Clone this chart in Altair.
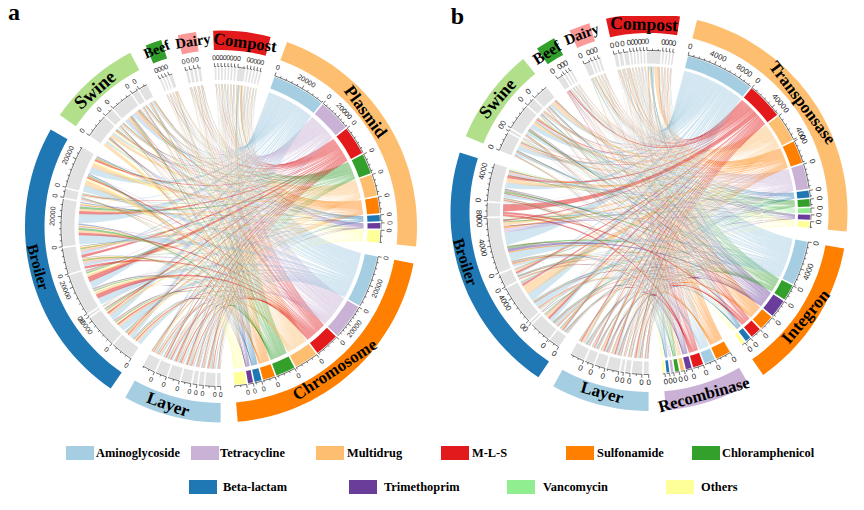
import math
import altair as alt

CLASSES = ["Aminoglycoside", "Tetracycline", "Multidrug", "M-L-S", "Sulfonamide",
           "Chloramphenicol", "Beta-lactam", "Trimethoprim", "Vancomycin", "Others"]
CLASS_COLORS = ["#a6cee3", "#cab2d6", "#fdbf6f", "#e31a1c", "#ff7f00",
                "#33a02c", "#1f78b4", "#6a3d9a", "#90ee90", "#ffff99"]
SECTOR_COLORS = {"Compost": "#e31a1c", "Plasmid": "#fdbf6f", "Chromosome": "#ff7f00",
                 "Layer": "#a6cee3", "Broiler": "#1f78b4", "Swine": "#b2df8a",
                 "Beef": "#33a02c", "Dairy": "#fb9a99", "Transponsase": "#fdbf6f",
                 "Integron": "#ff7f00", "Recombinase": "#cab2d6"}

# ---------- panel a : mobile element totals per class ----------
plasmid_classes = ["Aminoglycoside", "Tetracycline", "M-L-S", "Chloramphenicol", "Multidrug",
                   "Sulfonamide", "Beta-lactam", "Trimethoprim", "Others"]
plasmid_values = [36100, 21700, 19400, 13500, 14400, 10800, 4300, 3700, 8400]
chromosome_classes = ["Aminoglycoside", "Tetracycline", "M-L-S", "Multidrug", "Chloramphenicol",
                      "Sulfonamide", "Beta-lactam", "Trimethoprim", "Others"]
chromosome_values = [35000, 23700, 16500, 16100, 13100, 8200, 4700, 3400, 8000]

# panel a : sample totals
a_compost = [1100, 1000, 1200, 1100, 1000, 1100, 1200, 5000, 1100, 1200, 1000, 1100, 1000]
a_dairy = [1700, 1700, 1700, 1700]
a_beef = [1100, 1100, 1100, 2300]
a_swine = [15900, 5800, 15000, 4300, 6000]
a_broiler = [15000, 22400, 1300, 28200, 17400, 31800, 5800, 28600]
a_layer = [2600, 6700, 3200, 3000, 6700, 7900, 7500, 8600]

# class mix per sample : same order as CLASSES
a_compost_mix = [
    [32, 6, 24, 9, 9, 6, 7, 2, 0, 5], [25, 10, 28, 8, 8, 7, 6, 3, 0, 5], [30, 8, 20, 12, 10, 6, 5, 3, 0, 6],
    [22, 12, 25, 7, 12, 8, 6, 2, 0, 6], [35, 7, 22, 8, 7, 5, 7, 3, 0, 6], [28, 9, 26, 10, 8, 6, 5, 2, 0, 6],
    [24, 11, 23, 12, 9, 7, 6, 3, 0, 5], [30, 6, 27, 4, 13, 14, 3, 1, 0, 2], [33, 8, 21, 7, 9, 8, 6, 3, 0, 5],
    [26, 10, 26, 9, 8, 6, 7, 2, 0, 6], [29, 7, 24, 11, 10, 7, 5, 2, 0, 5], [23, 12, 28, 8, 7, 8, 6, 3, 0, 5],
    [31, 9, 22, 10, 9, 6, 6, 2, 0, 5]]
a_dairy_mix = [[24, 12, 30, 8, 8, 8, 4, 2, 0, 4], [30, 10, 22, 12, 8, 8, 3, 2, 0, 5],
               [26, 9, 28, 10, 9, 6, 5, 3, 0, 4], [28, 14, 20, 12, 6, 9, 4, 2, 0, 5]]
a_beef_mix = [[30, 10, 20, 14, 8, 6, 5, 3, 0, 4], [24, 14, 24, 10, 10, 7, 4, 3, 0, 4],
              [32, 12, 18, 12, 8, 8, 4, 2, 0, 4], [22, 14, 18, 6, 16, 16, 3, 2, 0, 3]]
a_swine_mix = [[24, 8, 30, 6, 6, 5, 3, 2, 0, 16], [28, 14, 18, 10, 10, 8, 5, 2, 0, 5],
               [30, 16, 14, 6, 10, 8, 6, 4, 0, 6], [26, 14, 18, 10, 12, 10, 4, 2, 0, 4],
               [42, 10, 14, 6, 10, 10, 2, 2, 0, 4]]
a_broiler_mix = [[38, 5, 17, 14, 6, 6, 4, 2, 0, 8], [42, 6, 13, 13, 5, 7, 3, 2, 0, 9],
                 [30, 10, 20, 10, 5, 5, 5, 5, 0, 10], [36, 5, 12, 26, 4, 6, 3, 1, 0, 7],
                 [18, 17, 14, 22, 8, 9, 3, 2, 0, 7], [44, 6, 11, 14, 5, 11, 3, 2, 0, 4],
                 [25, 10, 15, 15, 10, 10, 5, 5, 0, 5], [35, 4, 26, 9, 5, 5, 3, 2, 0, 11]]
a_layer_mix = [[30, 8, 20, 16, 8, 6, 5, 3, 0, 4], [34, 8, 18, 16, 7, 5, 5, 2, 0, 5],
               [28, 10, 22, 14, 8, 6, 5, 3, 0, 4], [36, 7, 16, 18, 6, 6, 4, 3, 0, 4],
               [32, 6, 20, 20, 6, 5, 4, 2, 0, 5], [30, 8, 20, 20, 6, 6, 4, 2, 0, 4],
               [28, 8, 18, 22, 7, 7, 4, 2, 0, 4], [34, 6, 20, 14, 6, 6, 4, 2, 0, 8]]

# ---------- panel b ----------
transponsase_classes = ["Aminoglycoside", "M-L-S", "Multidrug", "Sulfonamide", "Tetracycline",
                        "Beta-lactam", "Chloramphenicol", "Vancomycin", "Trimethoprim", "Others"]
transponsase_values = [10050, 5300, 4000, 3300, 3600, 1000, 1050, 720, 720, 920]
integron_classes = ["Aminoglycoside", "Chloramphenicol", "Trimethoprim", "Sulfonamide", "M-L-S",
                    "Beta-lactam", "Others"]
integron_values = [6400, 2330, 2650, 2170, 1570, 800, 520]
recombinase_classes = ["Sulfonamide", "Aminoglycoside", "M-L-S", "Trimethoprim", "Multidrug",
                       "Chloramphenicol", "Tetracycline", "Beta-lactam", "Others"]
recombinase_values = [2170, 1570, 1490, 840, 520, 560, 360, 400, 320]

b_compost = [480, 480, 640, 240, 240, 240, 240, 240, 2000, 240, 240, 240, 240]
b_dairy = [880, 280, 280, 280]
b_beef = [880, 240, 240, 240]
b_swine = [2800, 320, 3780, 1200, 2250]
b_broiler = [1600, 3100, 280, 5630, 1970, 8000, 2000, 5430]
b_layer = [720, 1450, 720, 440, 1770, 1490, 1250, 2050]

b_compost_mix = [
    [26, 6, 34, 8, 8, 6, 4, 3, 2, 3], [30, 8, 26, 10, 8, 6, 5, 3, 1, 3], [24, 7, 30, 12, 9, 6, 4, 3, 2, 3],
    [28, 9, 24, 11, 8, 7, 5, 3, 2, 3], [25, 10, 27, 10, 10, 6, 4, 3, 2, 3], [31, 8, 23, 9, 9, 7, 5, 3, 2, 3],
    [27, 6, 29, 11, 8, 6, 5, 3, 2, 3], [29, 9, 25, 10, 9, 6, 4, 4, 1, 3], [33, 5, 30, 5, 12, 8, 2, 2, 1, 2],
    [26, 8, 28, 12, 8, 6, 4, 3, 2, 3], [30, 7, 24, 10, 10, 7, 4, 3, 2, 3], [24, 10, 27, 11, 9, 6, 5, 3, 2, 3],
    [28, 8, 26, 9, 10, 7, 4, 3, 2, 3]]
b_dairy_mix = [[34, 6, 28, 8, 6, 8, 3, 3, 1, 3], [24, 12, 26, 12, 8, 6, 4, 3, 2, 3],
               [28, 8, 24, 14, 10, 6, 3, 3, 1, 3], [22, 12, 30, 12, 8, 6, 3, 3, 1, 3]]
b_beef_mix = [[20, 5, 12, 40, 6, 6, 3, 4, 1, 3], [28, 10, 22, 14, 8, 6, 4, 4, 1, 3],
              [24, 10, 24, 16, 8, 6, 4, 4, 1, 3], [26, 12, 20, 14, 10, 7, 4, 3, 1, 3]]
b_swine_mix = [[44, 7, 12, 7, 7, 7, 4, 5, 2, 5], [26, 10, 18, 14, 10, 8, 5, 4, 2, 3],
               [36, 8, 14, 8, 8, 9, 5, 5, 2, 5], [30, 10, 18, 12, 10, 7, 4, 4, 2, 3],
               [34, 8, 26, 7, 7, 6, 3, 4, 2, 3]]
b_broiler_mix = [[30, 6, 16, 18, 8, 8, 4, 4, 2, 4], [36, 7, 14, 17, 7, 6, 4, 3, 2, 4],
                 [28, 10, 18, 14, 8, 8, 4, 4, 2, 4], [42, 4, 30, 9, 3, 3, 3, 2, 1, 3],
                 [26, 8, 16, 22, 8, 8, 4, 4, 1, 3], [46, 9, 8, 5, 9, 7, 3, 9, 1, 3],
                 [2, 1, 1, 90, 1, 1, 1, 1, 1, 1], [30, 8, 15, 13, 8, 9, 5, 5, 2, 5]]
b_layer_mix = [[30, 8, 18, 18, 8, 6, 4, 4, 1, 3], [28, 8, 20, 20, 7, 6, 4, 3, 1, 3],
               [30, 10, 18, 16, 8, 7, 4, 3, 1, 3], [26, 10, 20, 18, 8, 7, 4, 3, 1, 3],
               [32, 8, 16, 20, 7, 6, 4, 3, 1, 3], [28, 7, 20, 22, 6, 6, 4, 3, 1, 3],
               [32, 8, 16, 18, 8, 7, 4, 3, 1, 3], [30, 7, 22, 16, 7, 6, 5, 3, 1, 3]]

# ---------- panel layout ----------
PANELS = [
    dict(letter="a", letter_xy=(14, 20), cx=221, cy=226.5, start=357.7, tick_font=7,
         r_out=196, r_in=176.5, b_out=159, b_in=146.5, r_rib=142.5, minor=4000, major=20000,
         tick_stretch={"Tetracycline": 0.66},
         order=["Compost", "Plasmid", "Chromosome", "Layer", "Broiler", "Swine", "Beef", "Dairy"],
         targets={"Plasmid": (plasmid_classes, plasmid_values),
                  "Chromosome": (chromosome_classes, chromosome_values)},
         samples={"Compost": (a_compost, a_compost_mix), "Layer": (a_layer, a_layer_mix),
                  "Broiler": (a_broiler, a_broiler_mix), "Swine": (a_swine, a_swine_mix),
                  "Beef": (a_beef, a_beef_mix), "Dairy": (a_dairy, a_dairy_mix)},
         labels={"Compost": (245, 43, 7.5, 16.7), "Plasmid": (365, 112, 54, 17.4),
                 "Chromosome": (335, 370, -33.5, 17), "Layer": (168, 405, 20, 17.3),
                 "Broiler": (38, 267, 75, 15.4), "Swine": (95, 90, -41, 18.8),
                 "Beef": (157, 50, -22, 14.2), "Dairy": (193, 42, -9, 14.5)}),
    dict(letter="b", letter_xy=(457.5, 24), cx=649, cy=212.5, start=347.5, tick_font=7.8,
         r_out=198.5, r_in=179.5, b_out=161, b_in=149, r_rib=146, minor=800, major=4000,
         tick_stretch={},
         order=["Compost", "Transponsase", "Integron", "Recombinase", "Layer", "Broiler", "Swine", "Beef", "Dairy"],
         targets={"Transponsase": (transponsase_classes, transponsase_values),
                  "Integron": (integron_classes, integron_values),
                  "Recombinase": (recombinase_classes, recombinase_values)},
         samples={"Compost": (b_compost, b_compost_mix), "Layer": (b_layer, b_layer_mix),
                  "Broiler": (b_broiler, b_broiler_mix), "Swine": (b_swine, b_swine_mix),
                  "Beef": (b_beef, b_beef_mix), "Dairy": (b_dairy, b_dairy_mix)},
         labels={"Compost": (644, 25, 2, 17.7), "Transponsase": (802, 103, 53, 17),
                 "Integron": (806, 317, -50, 17.5), "Recombinase": (704, 395, -15.5, 16.6),
                 "Layer": (602, 393, 15.6, 17), "Broiler": (465, 262, 72, 16),
                 "Swine": (498, 99, -49, 18), "Beef": (547, 53, -32, 15.9), "Dairy": (582, 35, -21, 14.7)}),
]
BLOCK_GAP, SECTOR_GAP = 0.6, 5.0
MX, MY = 8, 16  # page margin, plus a strip of top padding so the letters are not clipped


def pt(p, ang, r):
    a = math.radians(ang)
    return (p["cx"] + r * math.sin(a) - MX, p["cy"] - r * math.cos(a) - MY)


def arc(p, a0, a1, r):
    n = max(1, int(abs(a1 - a0) / 2.5) + 1)
    return [pt(p, a0 + (a1 - a0) * i / n, r) for i in range(n + 1)]


def clean(points):
    return [[round(x, 1), round(y, 1)] for x, y in points]


def feature(kind, coords, **props):
    return {"type": "Feature", "geometry": {"type": kind, "coordinates": coords}, "properties": props}


def bezier(p, a, b, n=14):
    ox, oy = p["cx"] - MX, p["cy"] - MY
    cx = ox + 0.15 * ((a[0] + b[0]) / 2 - ox)
    cy = oy + 0.15 * ((a[1] + b[1]) / 2 - oy)
    out = []
    for i in range(1, n):
        t = i / n
        out.append(((1 - t) ** 2 * a[0] + 2 * t * (1 - t) * cx + t * t * b[0],
                    (1 - t) ** 2 * a[1] + 2 * t * (1 - t) * cy + t * t * b[1]))
    return out


ribbons, solids, axes, tick_labels, sector_labels = [], [], [], [], []

for p in PANELS:
    total = 0
    n_gaps = 0
    for name in p["order"]:
        vals = p["targets"][name][1] if name in p["targets"] else p["samples"][name][0]
        total += sum(vals)
        n_gaps += len(vals) - 1
    per_unit = (360 - n_gaps * BLOCK_GAP - len(p["order"]) * SECTOR_GAP) / total

    cursor = p["start"]
    spans = {}
    for name in p["order"]:
        vals = p["targets"][name][1] if name in p["targets"] else p["samples"][name][0]
        first = cursor
        blocks = []
        for v in vals:
            blocks.append((cursor, cursor + v * per_unit, v))
            cursor += v * per_unit + BLOCK_GAP
        cursor -= BLOCK_GAP
        spans[name] = blocks
        ring = arc(p, first, cursor, p["r_out"]) + arc(p, cursor, first, p["r_in"])
        solids.append(feature("Polygon", [clean(ring + ring[:1])], c=SECTOR_COLORS[name]))
        cursor += SECTOR_GAP

    # blocks, axes and tick marks
    for name in p["order"]:
        for i, (a0, a1, v) in enumerate(spans[name]):
            color = "#e2e2e2"
            stretch = 1.0
            if name in p["targets"]:
                cls = p["targets"][name][0][i]
                color = CLASS_COLORS[CLASSES.index(cls)]
                stretch = p["tick_stretch"].get(cls, 1.0)
            poly = arc(p, a0, a1, p["b_out"]) + arc(p, a1, a0, p["b_in"])
            solids.append(feature("Polygon", [clean(poly + poly[:1])], c=color))
            lines = [clean(arc(p, a0, a1, p["b_out"] + 1))]
            tick = 0
            while tick * stretch <= v:
                ang = a0 + tick * stretch * per_unit
                is_major = tick % p["major"] == 0
                lines.append(clean([pt(p, ang, p["b_out"] + 1), pt(p, ang, p["b_out"] + (4.5 if is_major else 2.8))]))
                if is_major:
                    lx, ly = pt(p, ang, p["b_out"] + 9.5)
                    norm = ang % 360
                    rot = norm - 180 if 90 < norm < 270 else (norm if norm <= 90 else norm - 360)
                    tick_labels.append({"x": round(lx, 1), "y": round(ly, 1), "t": str(tick), "rot": rot % 360,
                                        "s": p["tick_font"]})
                tick += p["minor"]
            axes.append(feature("MultiLineString", lines))

    # ribbons
    def dist(frm, to):
        return (to - frm) % 360

    sample_names = [n for n in p["order"] if n in p["samples"]]
    share = {}
    for t, (cl, vals) in p["targets"].items():
        for c, v in zip(cl, vals):
            share.setdefault(c, {})[t] = v

    # target side : each class block is shared out between all sample blocks
    target_pos = {}
    for t, (cl, vals) in p["targets"].items():
        for i, c in enumerate(cl):
            a0, a1, _ = spans[t][i]
            entries = []
            for s in sample_names:
                for j, row in enumerate(p["samples"][s][1]):
                    w = row[CLASSES.index(c)]
                    if w > 0:
                        b0, b1, _ = spans[s][j]
                        entries.append((dist(a0, (b0 + b1) / 2), s, j, w))
            entries.sort(reverse=True, key=lambda e: e[0])
            width = sum(e[3] for e in entries)
            cur = a0
            for _, s, j, w in entries:
                d = (a1 - a0) * w / width
                target_pos[(t, c, s, j)] = (cur, cur + d)
                cur += d

    for s in sample_names:
        for j, row in enumerate(p["samples"][s][1]):
            b0, b1, _ = spans[s][j]
            parts = []
            tnames = sorted(p["targets"], key=lambda t: -dist(b0, spans[t][0][0]))
            for t in tnames:
                ranked = sorted(range(len(CLASSES)), key=lambda k: -row[k])
                for k in ranked:
                    c = CLASSES[k]
                    if row[k] > 0 and t in share.get(c, {}):
                        parts.append((t, c, row[k] * share[c][t] / sum(share[c].values())))
            tot = sum(x[2] for x in parts)
            cur = b0
            for t, c, w in parts:
                d = (b1 - b0) * w / tot
                s0, s1 = cur, cur + d
                cur += d
                t0, t1 = target_pos[(t, c, s, j)]
                A = arc(p, s0, s1, p["r_rib"])
                B = arc(p, t0, t1, p["r_rib"])
                path = A + bezier(p, A[-1], B[0]) + B + bezier(p, B[-1], A[0])
                ribbons.append(feature("Polygon", [clean(path + path[:1])], c=CLASS_COLORS[CLASSES.index(c)]))

    for name, (x, y, rot, size) in p["labels"].items():
        sector_labels.append({"x": x - MX, "y": y - MY, "t": name, "rot": rot % 360, "s": size})

letters = [{"x": p["letter_xy"][0] - MX, "y": p["letter_xy"][1] - MY, "t": p["letter"]} for p in PANELS]

# ---------- legend ----------
legend_rows = [
    (453, ["Aminoglycoside", "Tetracycline", "Multidrug", "M-L-S", "Sulfonamide", "Chloramphenicol"],
     [66, 191, 316, 441, 566, 692], [96, 220, 347, 472, 597, 722]),
    (487, ["Beta-lactam", "Trimethoprim", "Vancomycin", "Others"],
     [189, 349, 507, 666], [223, 384, 543, 701]),
]
legend_rect, legend_text = [], []
for y, names, xs, tx in legend_rows:
    for n, x, t in zip(names, xs, tx):
        legend_rect.append({"x": x - MX, "x2": x + 28 - MX, "y": y - 7 - MY, "y2": y + 7 - MY,
                            "c": CLASS_COLORS[CLASSES.index(n)]})
        legend_text.append({"x": t - MX, "y": y - MY, "t": n})

X = alt.X("x:Q", scale=None, axis=None)
Y = alt.Y("y:Q", scale=None, axis=None)
identity = dict(type="identity", scale=1, translate=[0, 0])

rib_layer = alt.Chart(alt.Data(values=ribbons)).mark_geoshape(fillOpacity=0.5, strokeWidth=0).encode(
    fill=alt.Fill("properties.c:N", scale=None)).project(**identity)
solid_layer = alt.Chart(alt.Data(values=solids)).mark_geoshape(strokeWidth=0).encode(
    fill=alt.Fill("properties.c:N", scale=None)).project(**identity)
axis_layer = alt.Chart(alt.Data(values=axes)).mark_geoshape(
    filled=False, stroke="#111111", strokeWidth=0.6).project(**identity)
tick_text = alt.Chart(alt.Data(values=tick_labels)).mark_text(
    font="Liberation Sans", color="#222222", align="center", baseline="middle").encode(
    x=X, y=Y, text="t:N", angle=alt.Angle("rot:Q", scale=None), size=alt.Size("s:Q", scale=None))
sector_text = alt.Chart(alt.Data(values=sector_labels)).mark_text(
    font="Liberation Serif", fontWeight="bold", color="black", align="center", baseline="middle").encode(
    x=X, y=Y, text="t:N", angle=alt.Angle("rot:Q", scale=None), size=alt.Size("s:Q", scale=None))
letter_text = alt.Chart(alt.Data(values=letters)).mark_text(
    font="Liberation Serif", fontSize=24, fontWeight="bold", color="black", align="center", baseline="alphabetic").encode(
    x=X, y=Y, text="t:N")
legend_boxes = alt.Chart(alt.Data(values=legend_rect)).mark_rect().encode(
    x=X, x2="x2:Q", y=Y, y2="y2:Q", fill=alt.Fill("c:N", scale=None))
legend_labels = alt.Chart(alt.Data(values=legend_text)).mark_text(
    font="Liberation Serif", fontSize=12.4, fontWeight="bold", color="black", align="left", baseline="middle").encode(
    x=X, y=Y, text="t:N")

chart = alt.layer(rib_layer, solid_layer, axis_layer, tick_text, sector_text, letter_text,
                  legend_boxes, legend_labels).properties(
    width=848, height=486, padding={"left": 0, "right": 0, "top": 8, "bottom": 0},
    autosize=alt.AutoSizeParams(type="none")
).configure_view(stroke=None)

chart.save("out.html", embed_options={"renderer": "svg", "actions": False})
